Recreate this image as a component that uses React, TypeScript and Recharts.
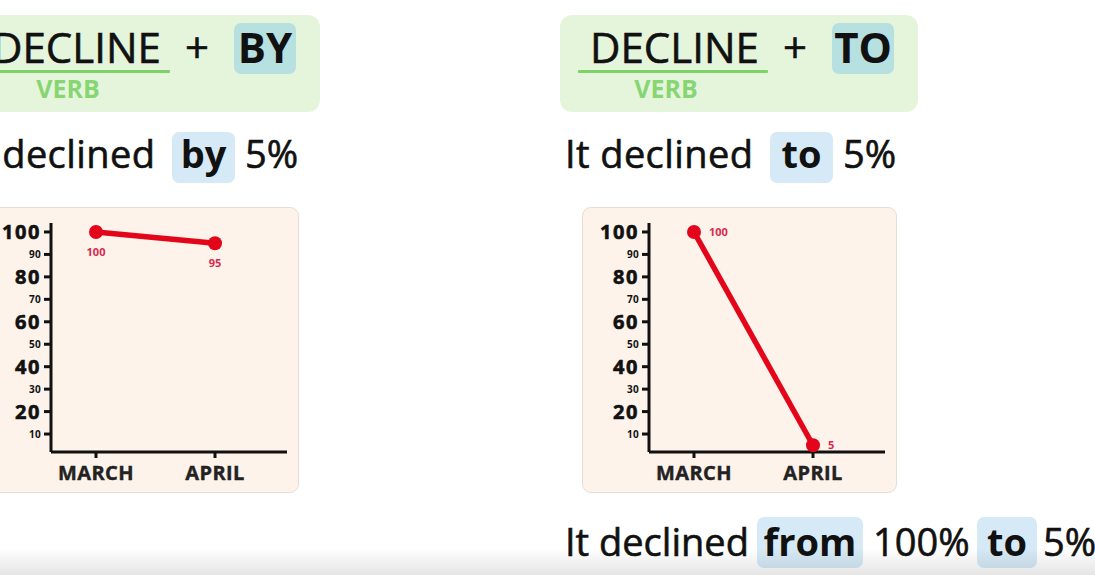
import React from "react";
import { LabelList, Line, LineChart, XAxis, YAxis } from "recharts";

const months = ["MARCH", "APRIL"];
const byValues = [100, 95];
const toValues = [100, 5];
const yTicks = [10, 20, 30, 40, 50, 60, 70, 80, 90, 100];
const majorTicks = [20, 40, 60, 80, 100];

const FONT = '"Open Sans", "Noto Sans", sans-serif';
const RED = "#e3061b";
const LABEL_RED = "#d52a4d";

type TxtProps = {
  x: number;
  base: number;
  size: number;
  bold?: boolean;
  color?: string;
  w?: number;
  ls?: number;
  children: React.ReactNode;
};

// text placed by its baseline (Open Sans ascent ~0.888em with line-height 1)
function Txt({ x, base, size, bold, color = "#111", w, ls = 0, children }: TxtProps) {
  return (
    <div
      style={{
        position: "absolute",
        left: x,
        top: base - size * 0.888,
        width: w,
        textAlign: w ? "center" : "left",
        fontSize: size,
        lineHeight: `${size}px`,
        fontWeight: bold ? 700 : 400,
        letterSpacing: ls,
        color,
        whiteSpace: "nowrap",
        fontFamily: FONT,
        WebkitTextStroke: bold ? undefined : `0.6px ${color}`,
      }}
    >
      {children}
    </div>
  );
}

function Box({ x, y, w, h, bg, r }: { x: number; y: number; w: number; h: number; bg: string; r: number }) {
  return (
    <div
      style={{
        position: "absolute",
        left: x,
        top: y,
        width: w,
        height: h,
        background: bg,
        borderRadius: r,
      }}
    />
  );
}

function YTick(props: any) {
  const { x, y, payload } = props;
  const major = majorTicks.includes(payload.value);
  return (
    <text
      x={x - 1}
      y={y}
      dy={major ? 7 : 3.5}
      textAnchor="end"
      fontFamily={FONT}
      fontWeight={700}
      fontSize={major ? 20 : 10}
      letterSpacing={major ? 1.6 : 0.3}
      stroke={major ? "#111" : "none"}
      strokeWidth={0.6}
      fill="#111"
    >
      {payload.value}
    </text>
  );
}

function XTick(props: any) {
  const { x, y, payload } = props;
  return (
    <text
      x={x}
      y={y + 20}
      textAnchor="middle"
      fontFamily={FONT}
      fontWeight={700}
      fontSize={20}
      letterSpacing={0.4}
      stroke="#222"
      strokeWidth={0.4}
      fill="#222"
    >
      {payload.value}
    </text>
  );
}

function DeclineChart({ values, labelSide }: { values: number[]; labelSide: "below" | "right" }) {
  const data = months.map((month, i) => ({ month, value: values[i] }));

  const renderLabel = (props: any) => {
    const { x, y, value } = props;
    if (labelSide === "below") {
      return (
        <text x={x} y={y + 24} textAnchor="middle" fontFamily={FONT} fontWeight={700} fontSize={11} fill={LABEL_RED}>
          {value}
        </text>
      );
    }
    return (
      <text x={x + 15} y={y + 4} textAnchor="start" fontFamily={FONT} fontWeight={700} fontSize={11} fill={LABEL_RED}>
        {value}
      </text>
    );
  };

  return (
    <LineChart width={315} height={286} data={data} margin={{ top: 16, right: 12, bottom: 11, left: 7 }}>
      <YAxis
        type="number"
        domain={[2, 104]}
        ticks={yTicks}
        interval={0}
        width={60}
        tickSize={7}
        axisLine={{ stroke: "#111", strokeWidth: 3 }}
        tickLine={{ stroke: "#111", strokeWidth: 3 }}
        tick={<YTick />}
      />
      <XAxis
        dataKey="month"
        padding={{ left: 45, right: 72 }}
        height={30}
        tickSize={6}
        axisLine={{ stroke: "#111", strokeWidth: 3 }}
        tickLine={{ stroke: "#111", strokeWidth: 3 }}
        tick={<XTick />}
      />
      <Line
        dataKey="value"
        stroke={RED}
        strokeWidth={5.5}
        dot={{ r: 7, fill: RED, stroke: "none" }}
        activeDot={false}
        isAnimationActive={false}
      >
        <LabelList dataKey="value" content={renderLabel} />
      </Line>
    </LineChart>
  );
}

function Panel({ dx, word, small, values, labelSide }: { dx: number; word: string; small: string; values: number[]; labelSide: "below" | "right" }) {
  return (
    <>
      <Box x={560 + dx} y={15} w={358} h={97} bg="#e5f5dc" r={12} />
      <Txt x={590 + dx} base={63} size={42}>DECLINE</Txt>
      <Box x={578 + dx} y={70} w={190} h={3} bg="#7dd268" r={1} />
      <Txt x={616 + dx} base={98} size={25} bold color="#88d673" w={100}>VERB</Txt>
      <Txt x={780 + dx} base={63} size={42} w={30}>+</Txt>
      <Box x={832 + dx} y={23} w={62} h={51} bg="#b7e0e1" r={7} />
      <Txt x={832 + dx} base={63} size={42} bold w={62}>{word}</Txt>

      <Txt x={565 + dx} base={168} size={38} ls={0.4}>It declined</Txt>
      <Box x={770 + dx} y={132} w={63} h={51} bg="#d5e9f6" r={7} />
      <Txt x={770 + dx} base={168} size={38} bold w={63}>{small}</Txt>
      <Txt x={843 + dx} base={168} size={38}>5%</Txt>

      <div
        style={{
          position: "absolute",
          left: 582 + dx,
          top: 207,
          width: 315,
          height: 286,
          boxSizing: "border-box",
          background: "#fdf3eb",
          border: "1px solid #e6ded6",
          borderRadius: 9,
        }}
      >
        <div style={{ position: "absolute", left: -1, top: -1 }}>
          <DeclineChart values={values} labelSide={labelSide} />
        </div>
      </div>
    </>
  );
}

export default function App() {
  return (
    <div
      style={{
        position: "absolute",
        left: 0,
        top: 0,
        width: 1095,
        height: 575,
        overflow: "hidden",
        background: "#fff",
        fontFamily: FONT,
      }}
    >
      <Panel dx={-598} word="BY" small="by" values={byValues} labelSide="below" />
      <Panel dx={0} word="TO" small="to" values={toValues} labelSide="right" />

      <Txt x={565} base={556} size={38}>It declined</Txt>
      <Box x={757} y={517} w={106} h={51} bg="#d5e9f6" r={7} />
      <Txt x={757} base={556} size={38} bold w={106}>from</Txt>
      <Txt x={873} base={556} size={38}>100%</Txt>
      <Box x={977} y={517} w={60} h={51} bg="#d5e9f6" r={7} />
      <Txt x={977} base={556} size={38} bold w={60}>to</Txt>
      <Txt x={1043} base={556} size={38}>5%</Txt>

      <div
        style={{
          position: "absolute",
          left: 0,
          top: 548,
          width: 1095,
          height: 27,
          background: "linear-gradient(rgba(0,0,0,0), rgba(0,0,0,0.1))",
        }}
      />
    </div>
  );
}
